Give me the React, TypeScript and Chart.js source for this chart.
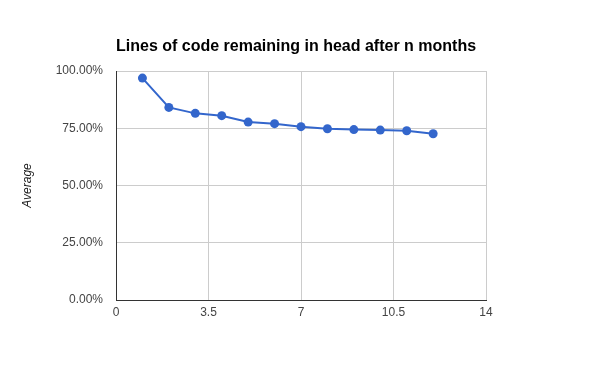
import React, { useEffect, useRef } from "react";
import { Chart, registerables } from "chart.js";

Chart.register(...registerables);

const months = [1, 2, 3, 4, 5, 6, 7, 8, 9, 10, 11, 12];
const averages = [0.969, 0.841, 0.815, 0.805, 0.777, 0.770, 0.757, 0.748, 0.744, 0.742, 0.739, 0.726];
const titleText = "Lines of code remaining in head after n months";
const yAxisTitle = "Average";
const xMin = 0;
const xMax = 14;
const xStep = 3.5;
const yMin = 0;
const yMax = 1;
const yStep = 0.25;

const titlePlugin = {
  id: "customTitle",
  afterDraw(chart: any) {
    const ctx = chart.ctx;
    ctx.save();
    ctx.font = "bold 16px 'Liberation Sans', Arial, sans-serif";
    ctx.fillStyle = "#000";
    ctx.textAlign = "left";
    ctx.textBaseline = "alphabetic";
    ctx.fillText(titleText, 116, 51);
    ctx.restore();
  },
};

export default function App() {
  const ref = useRef<HTMLCanvasElement | null>(null);
  useEffect(() => {
    if (!ref.current) return;
    const chart = new Chart(ref.current, {
      type: "scatter",
      data: {
        datasets: [
          {
            label: yAxisTitle,
            data: months.map((m, i) => ({ x: m, y: averages[i] })),
            showLine: true,
            borderColor: "#3366cc",
            backgroundColor: "#3366cc",
            borderWidth: 2,
            pointRadius: 4.5,
            pointHoverRadius: 4.5,
            pointBorderWidth: 0,
          },
        ],
      },
      plugins: [titlePlugin],
      options: {
        responsive: false,
        animation: false,
        devicePixelRatio: 1,
        layout: { padding: { left: 0, right: 114, top: 71, bottom: 0 } },
        plugins: {
          legend: { display: false },
          tooltip: { enabled: false },
          title: { display: false },
        },
        scales: {
          x: {
            type: "linear",
            min: xMin,
            max: xMax,
            ticks: {
              stepSize: xStep,
              padding: 5,
              color: "#444",
              font: { family: "'Liberation Sans', Arial, sans-serif", size: 12 },
              callback: (v: any) => String(v),
            },
            grid: { color: "#cccccc", drawTicks: false, lineWidth: 1 },
            border: { color: "#333333", width: 1 },
            afterFit: (s: any) => {
              s.height = 71;
            },
          },
          y: {
            type: "linear",
            min: yMin,
            max: yMax,
            ticks: {
              stepSize: yStep,
              padding: 13,
              color: "#444",
              font: { family: "'Liberation Sans', Arial, sans-serif", size: 12 },
              callback: (v: any) => (Number(v) * 100).toFixed(2) + "%",
            },
            grid: { color: "#cccccc", drawTicks: false, lineWidth: 1 },
            border: { color: "#333333", width: 1 },
            title: {
              display: true,
              text: yAxisTitle,
              color: "#222",
              padding: { top: 20, bottom: 0 },
              font: { family: "'Liberation Sans', Arial, sans-serif", size: 12, style: "italic" },
            },
            afterFit: (s: any) => {
              s.width = 116;
            },
          },
        },
      },
    });
    return () => chart.destroy();
  }, []);
  return (
    <div style={{ position: "absolute", left: 0, top: 0, width: 600, height: 371, background: "#fff" }}>
      <canvas ref={ref} width={600} height={371} style={{ display: "block", width: 600, height: 371 }} />
    </div>
  );
}
